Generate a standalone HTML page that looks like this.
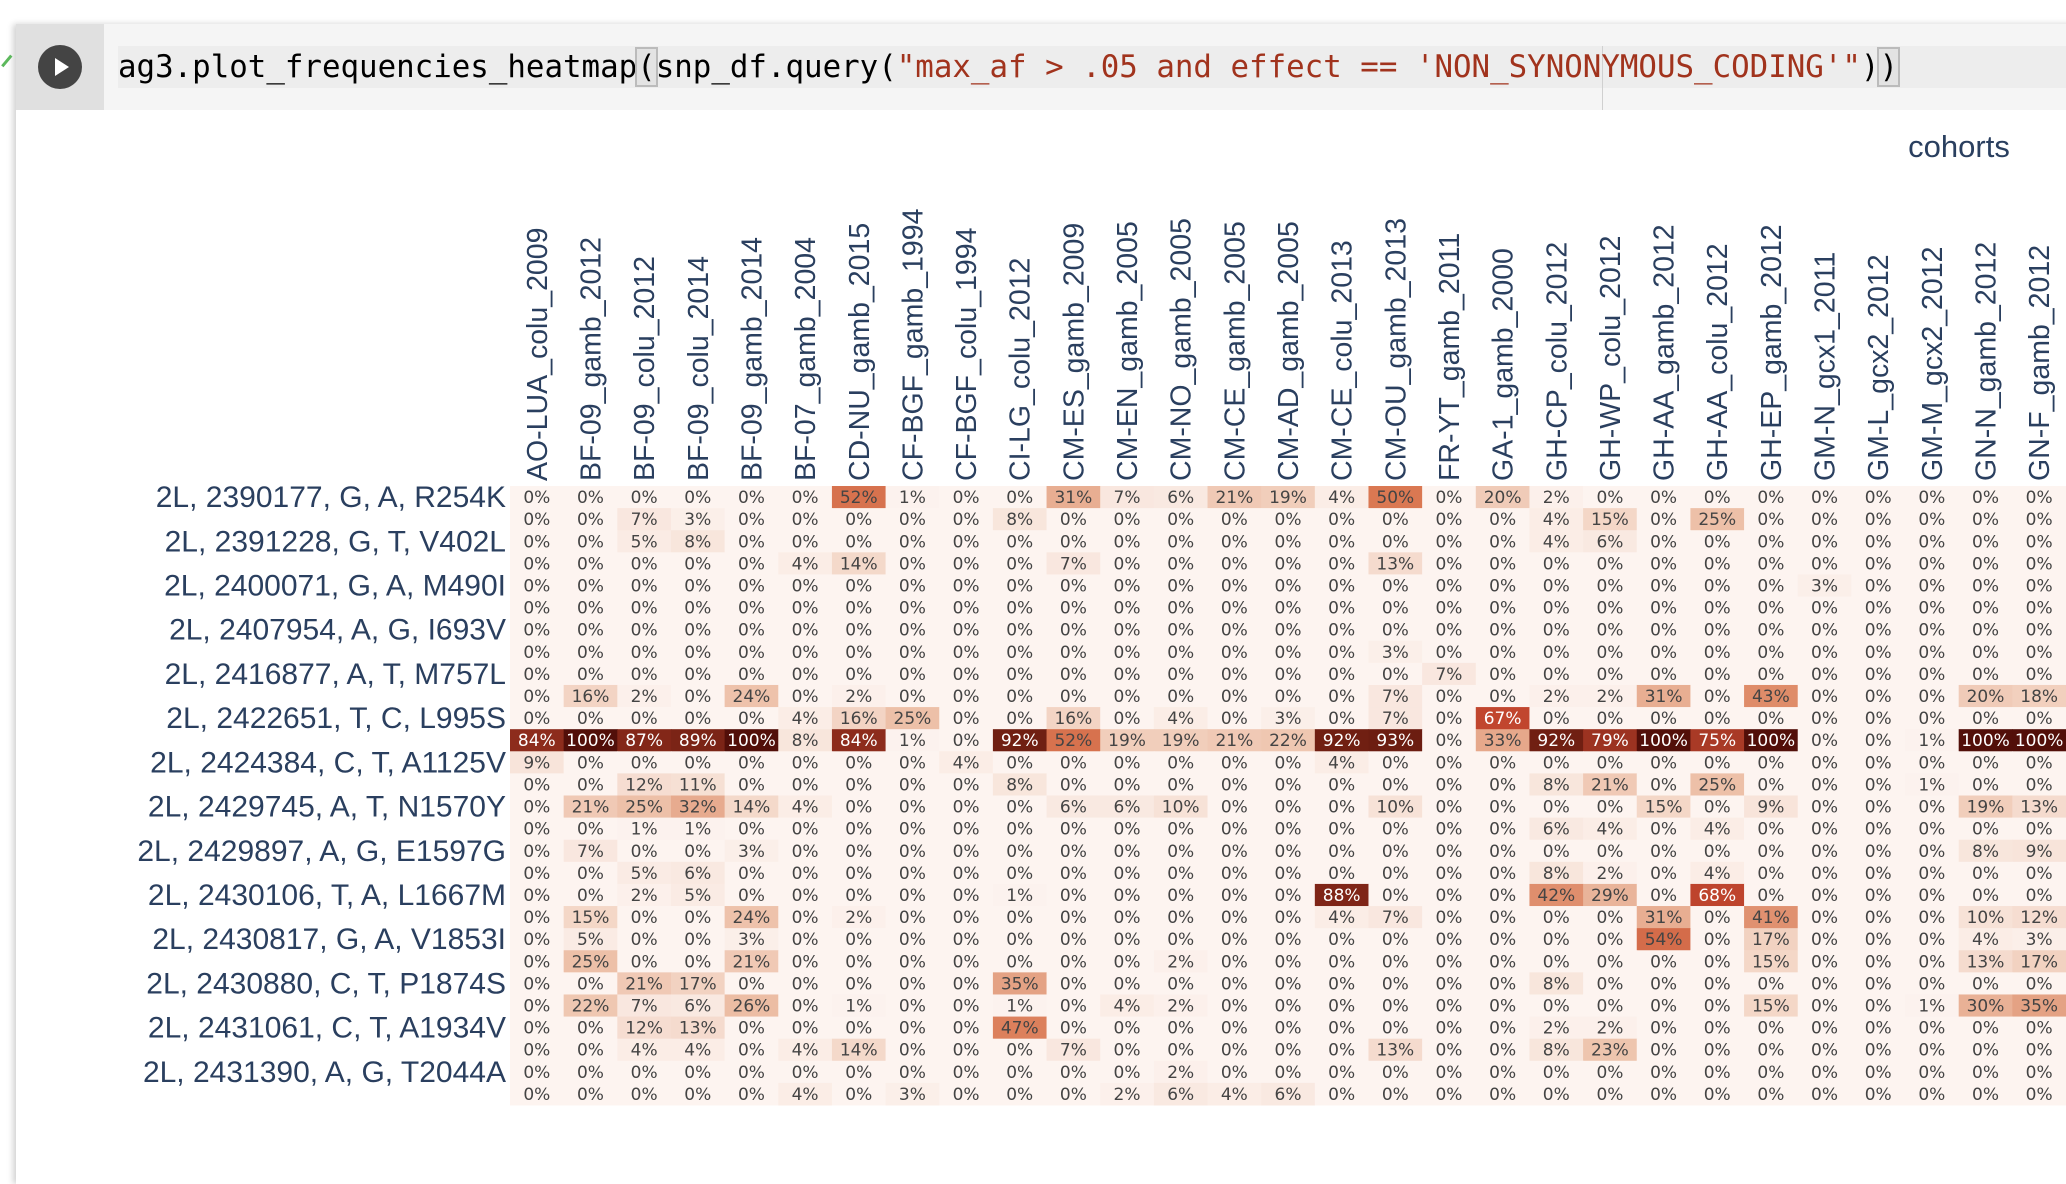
<!DOCTYPE html>
<html><head><meta charset="utf-8">
<style>
html,body{margin:0;padding:0;background:#fff;width:2066px;height:1176px;overflow:hidden;}
#cell{position:absolute;left:16px;top:24px;width:2060px;height:1160px;box-shadow:-3px 0 6px rgba(0,0,0,0.18);background:#fff;}
#gutter{position:absolute;left:16px;top:24px;width:88px;height:86px;background:#e0e0e0;}
#codearea{position:absolute;left:104px;top:24px;width:1962px;height:86px;background:#f5f5f5;}
#codeline{position:absolute;left:118px;top:46px;width:1948px;height:42px;background:#ededed;}
#ruler{position:absolute;left:1602px;top:46px;width:1px;height:64px;background:#d0d0d0;}
#play{position:absolute;left:38px;top:45px;width:44px;height:44px;border-radius:50%;background:#444;}
#play:after{content:"";position:absolute;left:17px;top:13px;border-left:14px solid #fff;border-top:9px solid transparent;border-bottom:9px solid transparent;}
#code{position:absolute;left:118px;top:47px;font-family:"DejaVu Sans Mono","Liberation Mono",monospace;font-size:30.8px;line-height:40px;color:#000;white-space:pre;}
#code .s{color:#a1331d;}
#code .b{outline:2px solid #bbb;background:#e3e3e3;}
#check{position:absolute;left:0;top:52px;width:6px;height:14px;border-right:3px solid #5cb85c;transform:rotate(40deg);}
svg{position:absolute;left:0;top:0;}
</style></head>
<body>
<div id="cell"></div>
<div id="check"></div>
<div id="gutter"></div>
<div id="codearea"></div>
<div id="codeline"></div>
<div id="ruler"></div>
<div id="play"></div>
<div id="code">ag3.plot_frequencies_heatmap<span class="b">(</span>snp_df.query(<span class="s">"max_af &gt; .05 and effect == 'NON_SYNONYMOUS_CODING'"</span>)<span class="b">)</span></div>
<svg id="chart" width="2066" height="1176">
<text x="1959" y="157" text-anchor="middle" font-family="Liberation Sans, sans-serif" font-size="31" fill="#2a3f5f">cohorts</text>
</svg>
<script>
const cohorts=["AO-LUA_colu_2009","BF-09_gamb_2012","BF-09_colu_2012","BF-09_colu_2014","BF-09_gamb_2014","BF-07_gamb_2004","CD-NU_gamb_2015","CF-BGF_gamb_1994","CF-BGF_colu_1994","CI-LG_colu_2012","CM-ES_gamb_2009","CM-EN_gamb_2005","CM-NO_gamb_2005","CM-CE_gamb_2005","CM-AD_gamb_2005","CM-CE_colu_2013","CM-OU_gamb_2013","FR-YT_gamb_2011","GA-1_gamb_2000","GH-CP_colu_2012","GH-WP_colu_2012","GH-AA_gamb_2012","GH-AA_colu_2012","GH-EP_gamb_2012","GM-N_gcx1_2011","GM-L_gcx2_2012","GM-M_gcx2_2012","GN-N_gamb_2012","GN-F_gamb_2012"];
const rowLabels=["2L, 2390177, G, A, R254K","2L, 2391228, G, T, V402L","2L, 2400071, G, A, M490I","2L, 2407954, A, G, I693V","2L, 2416877, A, T, M757L","2L, 2422651, T, C, L995S","2L, 2424384, C, T, A1125V","2L, 2429745, A, T, N1570Y","2L, 2429897, A, G, E1597G","2L, 2430106, T, A, L1667M","2L, 2430817, G, A, V1853I","2L, 2430880, C, T, P1874S","2L, 2431061, C, T, A1934V","2L, 2431390, A, G, T2044A"];
const freqs=[
[0,0,0,0,0,0,52,1,0,0,31,7,6,21,19,4,50,0,20,2,0,0,0,0,0,0,0,0,0],
[0,0,7,3,0,0,0,0,0,8,0,0,0,0,0,0,0,0,0,4,15,0,25,0,0,0,0,0,0],
[0,0,5,8,0,0,0,0,0,0,0,0,0,0,0,0,0,0,0,4,6,0,0,0,0,0,0,0,0],
[0,0,0,0,0,4,14,0,0,0,7,0,0,0,0,0,13,0,0,0,0,0,0,0,0,0,0,0,0],
[0,0,0,0,0,0,0,0,0,0,0,0,0,0,0,0,0,0,0,0,0,0,0,0,3,0,0,0,0],
[0,0,0,0,0,0,0,0,0,0,0,0,0,0,0,0,0,0,0,0,0,0,0,0,0,0,0,0,0],
[0,0,0,0,0,0,0,0,0,0,0,0,0,0,0,0,0,0,0,0,0,0,0,0,0,0,0,0,0],
[0,0,0,0,0,0,0,0,0,0,0,0,0,0,0,0,3,0,0,0,0,0,0,0,0,0,0,0,0],
[0,0,0,0,0,0,0,0,0,0,0,0,0,0,0,0,0,7,0,0,0,0,0,0,0,0,0,0,0],
[0,16,2,0,24,0,2,0,0,0,0,0,0,0,0,0,7,0,0,2,2,31,0,43,0,0,0,20,18],
[0,0,0,0,0,4,16,25,0,0,16,0,4,0,3,0,7,0,67,0,0,0,0,0,0,0,0,0,0],
[84,100,87,89,100,8,84,1,0,92,52,19,19,21,22,92,93,0,33,92,79,100,75,100,0,0,1,100,100],
[9,0,0,0,0,0,0,0,4,0,0,0,0,0,0,4,0,0,0,0,0,0,0,0,0,0,0,0,0],
[0,0,12,11,0,0,0,0,0,8,0,0,0,0,0,0,0,0,0,8,21,0,25,0,0,0,1,0,0],
[0,21,25,32,14,4,0,0,0,0,6,6,10,0,0,0,10,0,0,0,0,15,0,9,0,0,0,19,13],
[0,0,1,1,0,0,0,0,0,0,0,0,0,0,0,0,0,0,0,6,4,0,4,0,0,0,0,0,0],
[0,7,0,0,3,0,0,0,0,0,0,0,0,0,0,0,0,0,0,0,0,0,0,0,0,0,0,8,9],
[0,0,5,6,0,0,0,0,0,0,0,0,0,0,0,0,0,0,0,8,2,0,4,0,0,0,0,0,0],
[0,0,2,5,0,0,0,0,0,1,0,0,0,0,0,88,0,0,0,42,29,0,68,0,0,0,0,0,0],
[0,15,0,0,24,0,2,0,0,0,0,0,0,0,0,4,7,0,0,0,0,31,0,41,0,0,0,10,12],
[0,5,0,0,3,0,0,0,0,0,0,0,0,0,0,0,0,0,0,0,0,54,0,17,0,0,0,4,3],
[0,25,0,0,21,0,0,0,0,0,0,0,2,0,0,0,0,0,0,0,0,0,0,15,0,0,0,13,17],
[0,0,21,17,0,0,0,0,0,35,0,0,0,0,0,0,0,0,0,8,0,0,0,0,0,0,0,0,0],
[0,22,7,6,26,0,1,0,0,1,0,4,2,0,0,0,0,0,0,0,0,0,0,15,0,0,1,30,35],
[0,0,12,13,0,0,0,0,0,47,0,0,0,0,0,0,0,0,0,2,2,0,0,0,0,0,0,0,0],
[0,0,4,4,0,4,14,0,0,0,7,0,0,0,0,0,13,0,0,8,23,0,0,0,0,0,0,0,0],
[0,0,0,0,0,0,0,0,0,0,0,0,2,0,0,0,0,0,0,0,0,0,0,0,0,0,0,0,0],
[0,0,0,0,0,4,0,3,0,0,0,2,6,4,6,0,0,0,0,0,0,0,0,0,0,0,0,0,0]
];
const NS="http://www.w3.org/2000/svg";
const svg=document.getElementById('chart');
const X0=510,X1=2066,Y0=486,Y1=1105;
const nC=cohorts.length,nR=freqs.length;
const cw=(X1-X0)/nC,rh=(Y1-Y0)/nR;
function xPos(i){return X0+i*cw;}
function yPos(j){return Y0+j*rh;}
const stops=[[0,[253,244,240]],[0.1,[247,226,215]],[0.25,[237,192,168]],[0.35,[228,162,132]],[0.5,[218,120,82]],[0.67,[193,70,46]],[0.85,[138,42,27]],[0.92,[112,31,18]],[1,[82,15,9]]];
function color(v){v=v/100;for(let k=1;k<stops.length;k++){if(v<=stops[k][0]){const a=stops[k-1],b=stops[k];const t=(v-a[0])/(b[0]-a[0]);const c=a[1].map((q,i)=>Math.round(q+(b[1][i]-q)*t));return 'rgb('+c.join(',')+')';}}return 'rgb(82,15,9)';}
function mk(tag,attrs){const e=document.createElementNS(NS,tag);for(const k in attrs)e.setAttribute(k,attrs[k]);return e;}
for(let j=0;j<nR;j++){for(let i=0;i<nC;i++){const v=freqs[j][i];
const r=mk('rect',{x:xPos(i),y:yPos(j),width:cw+0.5,height:rh+0.5,fill:color(v)});


svg.appendChild(r);
const t=mk('text',{x:xPos(i)+cw/2,y:yPos(j)+rh/2+6,'text-anchor':'middle','font-family':'DejaVu Sans, sans-serif','font-size':'17',fill:v>=60?'#ffffff':'#444444'});
t.textContent=v+'%';


svg.appendChild(t);}}
for(let i=0;i<nC;i++){const cx=xPos(i)+cw/2+10;
const t=mk('text',{x:cx,y:481,transform:'rotate(-90 '+cx+' 481)','font-family':'Liberation Sans, sans-serif','font-size':'28.5',fill:'#2a3f5f'});
t.textContent=cohorts[i];


svg.appendChild(t);}
for(let k=0;k<rowLabels.length;k++){const yy=yPos(k*2)+rh/2+10;
const t=mk('text',{x:506,y:yy,'text-anchor':'end','font-family':'Liberation Sans, sans-serif','font-size':'30',fill:'#2a3f5f'});
t.textContent=rowLabels[k];


svg.appendChild(t);}
</script>
</body></html>
